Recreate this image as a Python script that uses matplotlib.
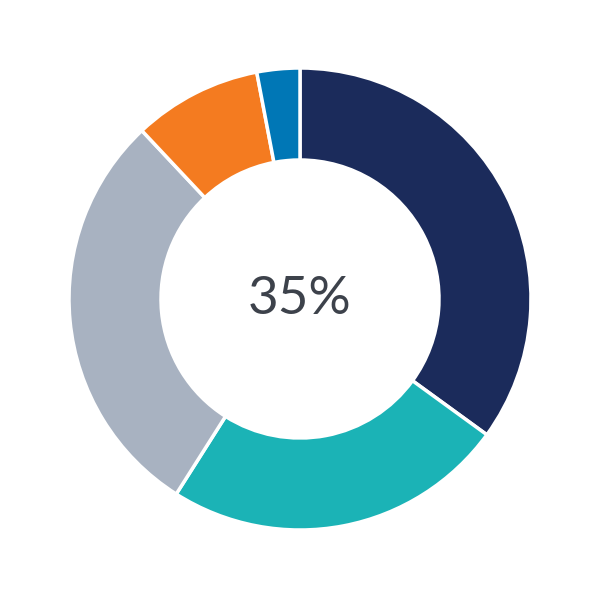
import matplotlib.pyplot as plt

labels = ["A", "B", "C", "D", "E"]
values = [35, 24, 29, 9, 3]
colors = ["#1b2b5b", "#1bb3b6", "#a8b2c1", "#f47b20", "#0077b6"]
center_text = "35%"

fig = plt.figure(figsize=(6, 5.99), dpi=100)
ax = fig.add_axes([0, 0, 1, 1])
ax.pie(values, colors=colors, startangle=90, counterclock=False,
       radius=231, center=(0, 0), frame=True,
       wedgeprops=dict(width=92, edgecolor="white", linewidth=2.5))
ax.set_xlim(-300, 300)
ax.set_ylim(-300, 299)
ax.set_aspect("equal")
ax.axis("off")
ax.text(0, 0, center_text, ha="center", va="center", fontsize=38,
        family=["Lato", "DejaVu Sans"], fontweight="normal", color="#3d424b")

fig.savefig("out.png", dpi=100, facecolor="white")
